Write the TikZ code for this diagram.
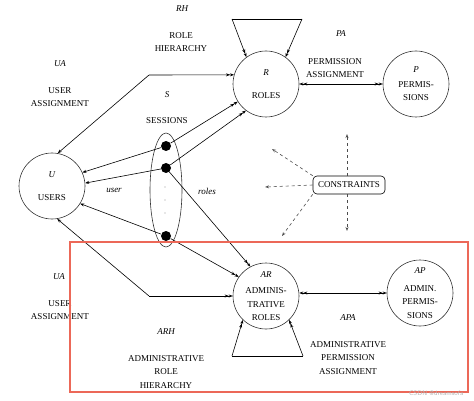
\documentclass[tikz,border=0pt]{standalone}
\usepackage{fontspec}
\setmainfont{Liberation Serif}
\usetikzlibrary{arrows.meta, positioning, shapes.geometric}
\definecolor{framered}{RGB}{236,104,88}
\tikzset{
	ent/.style={draw, black!80, text=black, circle, minimum size=66pt, inner sep=0pt, align=center, font=\fontsize{9}{13.5}\selectfont},
	sdot/.style={circle, fill, minimum size=10pt, inner sep=0pt},
	txt/.style={align=center, font=\fontsize{9}{13.5}\selectfont},
	abbr/.style={font=\fontsize{9}{11}\selectfont\itshape},
	arone/.style={-{Stealth[length=4pt,width=3pt]}},
	armany/.style={-{Stealth[length=4pt,width=3pt] Stealth[length=4pt,width=3pt]}},
	artwo/.style={{Stealth[length=4pt,width=3pt] Stealth[length=4pt,width=3pt]}-{Stealth[length=4pt,width=3pt] Stealth[length=4pt,width=3pt]}},
	arcons/.style={dashed, black!70, -{Stealth[open,length=4pt,width=3pt]}}
}

\begin{document}
\begin{tikzpicture}[x=1pt, y=-1pt, line width=0.6pt]
	\useasboundingbox (0,0) rectangle (474,401);

	% ==========================================
	% ENTITIES
	% ==========================================
	\node[ent] (U) at (52,186) {\textit{U}\\[9.5pt]USERS};
	\node[ent] (R) at (266,84) {\textit{R}\\[9.5pt]ROLES};
	\node[ent] (P) at (416,84) {\textit{P}\\[1pt]PERMIS-\\SIONS};
	\node[ent] (AR) at (266,296) {\textit{AR}\\[3pt]ADMINIS-\\TRATIVE\\ROLES};
	\node[ent] (AP) at (420,293) {\textit{AP}\\[4pt]ADMIN.\\PERMIS-\\SIONS};

	% --- sessions ---
	\node[draw, black!80, ellipse, minimum width=32pt, minimum height=114pt, inner sep=0pt] (ses) at (166,190) {};
	\node[sdot] (s1) at (166,146) {};
	\node[sdot] (s2) at (166,168) {};
	\node[sdot] (s3) at (166,236) {};
	\foreach \y in {187,200,213} \fill[black!40] (165,\y) circle (0.6pt);

	% --- constraints ---
	\node[draw, rounded corners=4pt, minimum width=72pt, minimum height=18pt, inner sep=2pt, font=\fontsize{9}{11}\selectfont] (con) at (349,185) {CONSTRAINTS};

	% ==========================================
	% LABELS
	% ==========================================
	\node[abbr] (lrh) at (182,9) {RH};
	\node[txt] (trh) at (181,42) {ROLE\\HIERARCHY};
	\node[abbr] (lua) at (60,64) {UA};
	\node[txt] (tua) at (60,97) {USER\\ASSIGNMENT};
	\node[abbr] (ls) at (167,95) {S};
	\node[txt] (ts) at (167,121) {SESSIONS};
	\node[abbr] (lpa) at (341,34) {PA};
	\node[txt] (tpa) at (335,68) {PERMISSION\\ASSIGNMENT};
	\node[abbr] (luser) at (114,190) {user};
	\node[abbr] (lroles) at (207,191) {roles};
	\node[abbr] (lua2) at (59,277) {UA};
	\node[txt] (tua2) at (60,310) {USER\\ASSIGNMENT};
	\node[abbr] (larh) at (166,332) {ARH};
	\node[txt] (tarh) at (166,372) {ADMINISTRATIVE\\ROLE\\HIERARCHY};
	\node[abbr] (lapa) at (348,318) {APA};
	\node[txt] (tapa) at (348,358) {ADMINISTRATIVE\\PERMISSION\\ASSIGNMENT};

	% ==========================================
	% CONNECTORS
	% ==========================================
	% --- role hierarchies ---
	\coordinate (rh1) at (232,19);
	\coordinate (rh2) at (302,19);
	\draw (rh1) -- (rh2);
	\draw[armany] (rh1) -- (R.126);
	\draw[armany] (rh2) -- (R.54);
	\coordinate (arh1) at (232,356);
	\coordinate (arh2) at (303,356);
	\draw (arh1) -- (arh2);
	\draw[armany] (arh1) -- (AR.226);
	\draw[armany] (arh2) -- (AR.314);

	% --- user assignment ---
	\coordinate (ua) at (149,75);
	\draw[arone] (ua) -- (U.80);
	\draw[armany] (ua) -- (R.164);
	\coordinate (ua2) at (149,296);
	\draw[arone] (ua2) -- (U.279);
	\draw[armany] (ua2) -- (AR.west);

	% --- permission assignment ---
	\draw[artwo] (R.east) -- (P.west);
	\draw[artwo] (AR.east |- AP.west) -- (AP.west);

	% --- sessions ---
	\draw[arone] (s1) -- (U.24);
	\draw[arone] (s2) -- (U.5);
	\draw[arone] (s3) -- (U.328);
	\draw[armany] (s1) -- (R.212);
	\draw[armany] (s2) -- (R.233);
	\draw[armany] (s2) -- (AR.118);
	\draw[armany] (s3) -- (AR.145);

	% --- constraints ---
	\coordinate (c1) at (347,134);
	\coordinate (c2) at (265,187);
	\coordinate (c3) at (272,149);
	\coordinate (c4) at (282,236);
	\coordinate (c5) at (347,231);
	\draw[arcons] (con.north -| c1) -- (c1);
	\draw[arcons] (con.west) -- (c2);
	\draw[arcons] (con.north west) -- (c3);
	\draw[arcons] (con.south west) -- (c4);
	\draw[arcons] (con.south -| c5) -- (c5);

	% --- administrative part ---
	\draw[framered, line width=1.2pt] (70,242) rectangle (468,392);
	\node[anchor=east, black!30, font=\sffamily\fontsize{6.5}{7}\selectfont] (wm) at (467,393) {CSDN @dreamsofa};

\end{tikzpicture}
\end{document}
